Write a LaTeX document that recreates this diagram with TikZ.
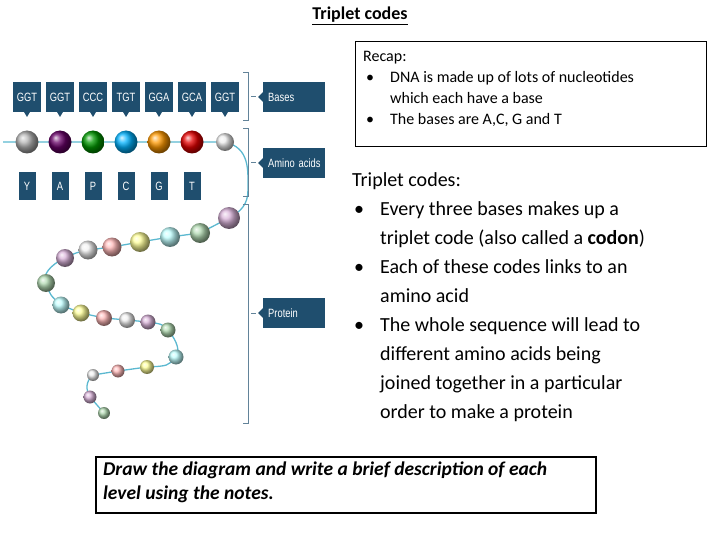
\documentclass[tikz,border=0pt]{standalone}
\usepackage{fontspec}
\setmainfont{Carlito}
\newfontfamily\labfont[FakeStretch=0.78]{Liberation Sans}
\usetikzlibrary{shapes.geometric}
\definecolor{navy}{HTML}{1F4E6E}
\definecolor{chain}{HTML}{5BB8D0}
\colorlet{pv}{violet!30!white}
\colorlet{pg}{green!35!gray!45!white}
\colorlet{pb}{cyan!25!white}
\colorlet{py}{yellow!40!white}
\colorlet{pr}{red!28!white}
\colorlet{pw}{gray!12!white}
\newcommand{\bul}[1]{\makebox[#1][l]{\textbullet}}
\begin{document}
\begin{tikzpicture}[x=1pt,y=-1pt,
  lab/.style={fill=navy,text=white,font=\labfont\fontsize{12}{12}\selectfont,inner sep=0pt,minimum height=30pt},
  let/.style={fill=navy,text=white,font=\labfont\fontsize{12}{12}\selectfont,inner sep=0pt,minimum height=28pt,minimum width=17pt},
  brk/.style={draw=navy!70,line width=1pt},
  ball/.style={circle,inner sep=0pt,shade,ball color=#1},
  chn/.style={draw=chain,line width=1.3pt},
  body/.style={font=\fontsize{20}{29}\selectfont,anchor=north west,align=left,inner sep=0pt}]
\useasboundingbox (0,0) rectangle (720,540);
% title
\node (title) at (360,16) {\fontsize{18}{18}\selectfont\bfseries\underline{Triplet codes}};
% chain line
\coordinate (c0) at (3,142);
\draw[chn] (c0) -- (225,142) .. controls (250,148) and (248,170) .. (248,190) .. controls (248,205) and (240,212) .. (229,218)
 .. controls (215,226) .. (200,233) -- (170,237) -- (140,242) -- (112,247) -- (88,250)
 .. controls (75,253) .. (65,258) .. controls (50,265) and (42,275) .. (46,283) .. controls (50,295) .. (61,305) -- (81,313) -- (104,318) -- (127,320) -- (148,322) .. controls (162,324) .. (168,330) .. controls (178,342) and (180,352) .. (176,357) .. controls (168,366) .. (147,367) -- (118,371) -- (93,375) .. controls (85,382) and (86,390) .. (90,397) -- (104,413);
% top balls
\foreach \x/\c/\n in {27/gray!60/a1,60/violet!80!black/a2,93/green!60!black/a3,126/cyan!70!blue/a4,159/orange!80!yellow/a5,192/red!90!black/a6}
  \node[ball=\c,minimum size=23pt] (\n) at (\x,142) {};
\node[ball=gray!15,minimum size=18pt] (a7) at (225,142) {};
% base labels
\foreach \x/\t/\n in {27/GGT/b1,60/GGT/b2,93/CCC/b3,126/TGT/b4,159/GGA/b5,192/GCA/b6,225/GGT/b7}{
  \node[lab,minimum width=28pt] (\n) at (\x,97) {\t};
  \fill[navy] (\x-3,112) -- (\x+3,112) -- (\x,117) -- cycle;}
\foreach \x/\t/\n in {27/Y/l1,60/A/l2,93/P/l3,126/C/l4,159/G/l5,192/T/l6}
  \node[let] (\n) at (\x,186) {\t};
% protein balls
\foreach \x/\y/\c/\r [count=\i] in {229/218/pv/22,200/233/pg/20,170/237/pb/20,140/242/py/20,112/247/pr/19,88/250/pw/19,65/258/pv/18,46/283/pg/18,61/305/pb/17,81/313/py/17,104/318/pr/16,127/320/pw/16,148/322/pv/15,168/330/pg/15,176/357/pb/15,147/367/py/14,118/371/pr/13,93/375/pw/12,90/397/pv/13,104/413/pg/12}
  \node[ball=\c,minimum size=\r pt] (p\i) at (\x,\y) {};
% brackets
\draw[brk] (243,73) -- (248,73) -- (248,121) -- (243,121);
\draw[brk] (243,129) -- (248,129) -- (248,197) -- (243,197);
\draw[brk] (243,205) -- (248,205) -- (248,423) -- (243,423);
\foreach \y/\t/\n in {97/Bases/s1,163/Amino acids/s2,313/Protein/s3}{
  \node[lab,minimum width=62pt,anchor=west,text width=60pt,align=left] (\n) at (263,\y) {\hspace{4pt}\t};
  \fill[navy] (263,\y-5) -- (263,\y+5) -- (258,\y) -- cycle;
  \draw[brk] (251,\y) -- (256,\y);}
% recap box
\draw[line width=1pt] (355,42) rectangle (706,147);
\node[anchor=north west,font=\fontsize{16}{24}\selectfont,align=left,inner sep=0pt] (recap) at (363,51) {Recap:\\[-3pt]
\hspace{3pt}\bul{24pt}DNA is made up of lots of nucleotides\\[-3pt]
\hspace{27pt}which each have a base\\[-3pt]
\hspace{3pt}\bul{24pt}The bases are A,C, G and T};
% main text
\node[body] (trip) at (352,172) {Triplet codes:\\
\hspace{2pt}\bul{26pt}Every three bases makes up a\\
\hspace{28pt}triplet code (also called a \textbf{codon})\\
\hspace{2pt}\bul{26pt}Each of these codes links to an\\
\hspace{28pt}amino acid\\
\hspace{2pt}\bul{26pt}The whole sequence will lead to\\
\hspace{28pt}different amino acids being\\
\hspace{28pt}joined together in a particular\\
\hspace{28pt}order to make a protein};
% bottom box
\draw[line width=1.2pt] (96,457) rectangle (596,513);
\node[anchor=north west,font=\fontsize{19.5}{24}\selectfont\bfseries\itshape,align=left,inner sep=0pt] (task) at (103,462) {Draw the diagram and write a brief description of each\\level using the notes.};
\end{tikzpicture}
\end{document}
